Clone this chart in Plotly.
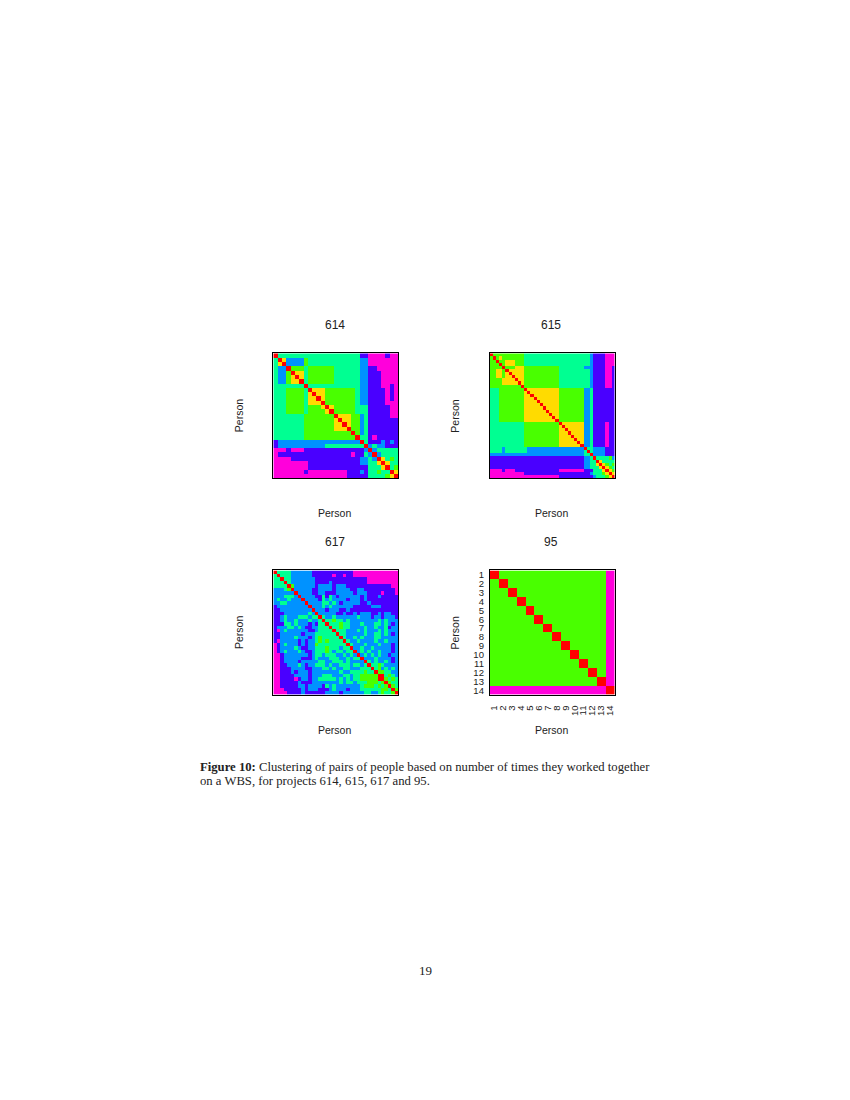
import plotly.graph_objects as go
from plotly.subplots import make_subplots

# cluster level per pair of people (0 lowest .. 6 highest), one string per row
rows_614 = [
    "6 33 3 333 3 333333 333333 11 0000100",
    "3 65 2222 4 333333333333 22 0000000",
    "3 56 2222 4 333333333333 22 0000000",
    "3 22 6 444 3 444444 333333 22 1100000",
    "3 22 4 655 3 444444 333333 22 1110000",
    "3 22 4 565 3 444444 333333 22 1110000",
    "3 22 4 556 3 444444 333333 22 1110000",
    "3 33 3 333 6 333333 333333 22 1110010",
    "3 33 4444 3 6555 44 44444 3 22 1111010",
    "3 33 4444 3 5655 44 44444 3 22 1111010",
    "3 33 4444 3 5565 44 44444 3 22 1111010",
    "3 33 4444 3 5556 44 44444 3 22 1111000",
    "3 33 4444 3 4445 65 44444 3 33 1111100",
    "3 33 4444 3 4444 56 44444 3 33 1111100",
    "3333333 4 444444 6555 44 2 3 1111100",
    "3333333 4 444444 5655 44 2 3 1111111",
    "3333333 4 444444 5565 44 2 3 1111111",
    "3333333 4 444444 5556 44 2 3 1111111",
    "3333333 4 444444 4444 64 2 3 1111111",
    "3333333 4 444444 4444 46 3 3 1011111",
    "1 22 2222 2 2222 22 22222 2 63 1112121",
    "1 22 2222 2 2222 33 33333 3 36 2322111",
    "000 1 000 1 1111 11 11111 1 12 6233333",
    "0 11 1111 1 1111 11 11110 1 13 2623333",
    "0 00 0 111 1 1111 11 11111 1 22 3265343",
    "0 00 0000 0 1111 11 11111 1 22 3356533",
    "0 00 0000 0 1111 11 11111 1 11 3335634",
    "0 00 0000 1 0000 00 00011 1 21 3343365",
    "0 00 0000 0 0000 00 00011 1 11 3333456",
]

rows_615 = [
    "644 44444444 33333333333 33333333 33 2 1111 00 0",
    "464 54444444 33333333333 33333333 33 2 1111 00 0",
    "446 44555444 33333333333 33333333 33 2 1111 00 0",
    "444 64555444 33333333333 33333333 33 2 1111 00 0",
    "444 46444555 44444444444 33333333 22 2 1111 00 1",
    "445 54655555 44444444444 33333333 33 2 1111 00 1",
    "445 54565555 44444444444 33333333 33 2 1111 00 1",
    "445 54556555 44444444444 33333333 33 2 1111 00 1",
    "444 45555655 44444444444 33333333 33 2 1111 00 1",
    "444 45555565 44444444444 33333333 33 2 1111 00 1",
    "444 44444446 44444444444 33333333 33 2 1111 00 1",
    "333 44444444 65555555555 44444444 22 3 1111 11 1",
    "333 44444444 56555555555 44444444 22 3 1111 11 1",
    "333 44444444 55655555555 44444444 22 3 1111 11 1",
    "333 44444444 55565555555 44444444 22 3 1111 11 1",
    "333 44444444 55556555555 44444444 22 3 1111 11 1",
    "333 44444444 55555655555 44444444 22 3 1111 11 1",
    "333 44444444 55555565555 44444444 22 3 1111 11 1",
    "333 44444444 55555556555 44444444 22 3 1111 11 1",
    "333 44444444 55555555655 44444444 22 3 1111 11 1",
    "333 44444444 55555555565 44444444 22 3 1111 11 1",
    "333 44444444 55555555556 44444444 22 3 1111 11 1",
    "333 33333333 44444444444 65555555 22 3 1111 01 1",
    "333 33333333 44444444444 56555555 22 3 1111 01 1",
    "333 33333333 44444444444 55655555 22 3 1111 01 1",
    "333 33333333 44444444444 55565555 22 3 1111 01 1",
    "333 33333333 44444444444 55556555 22 3 1111 01 1",
    "333 33333333 44444444444 55555655 22 3 1111 01 1",
    "333 33333333 44444444444 55555565 22 3 1111 01 1",
    "333 33333333 44444444444 55555556 22 3 1111 01 1",
    "333 32333333 32222222222 22222222 63 3 2222 11 1",
    "333 32333333 32222222222 22222222 36 3 2222 11 1",
    "222 22222222 22222222222 22222222 33 6 2222 11 1",
    "111 11111111 11111111111 11111111 22 3 6333 34 2",
    "111 11111111 11111111111 11111111 22 3 3653 33 3",
    "111 11111111 11111111111 11111111 22 3 3565 43 4",
    "111 11111111 11111111111 11111111 22 3 3356 54 3",
    "000 01000111 11111111111 00000000 11 1 3335 65 4",
    "000 00000000 11111111111 11111111 11 2 3334 56 5",
    "000 00000000 00000000000 11111111 11 1 2333 45 6",
]

rows_617 = [
    "633332 222221 111111 111110 000000 000000",
    "363332 222221 111110 110110 000000 000000",
    "336332 222222 111111 111111 111000 000000",
    "333632 222222 111121 111111 111000 000000",
    "333364 222222 122221 222111 111111 111100",
    "222346 222221 122221 222211 221111 111110",
    "222222 622221 122111 222221 222111 101110",
    "222333 262222 113132 122222 212111 211111",
    "232232 226222 213232 222122 212111 111111",
    "223322 222622 223323 212222 211211 111111",
    "122222 222262 223232 222221 111122 211111",
    "112222 222226 222122 211211 111111 111111",
    "111222 222232 622222 112112 122211 212211",
    "112322 233323 363223 222222 322212 212221",
    "112322 322232 236334 332322 222222 323222",
    "111332 322212 133633 343322 232223 323212",
    "122233 232112 233363 343322 223223 223122",
    "102322 222211 233336 333222 323222 323222",
    "112222 221222 333333 633222 223223 323212",
    "112222 322212 343333 363223 232223 322222",
    "102222 212122 343433 336322 322223 223222",
    "012322 212122 433333 333632 223222 322212",
    "012222 321122 333433 323362 232232 222212",
    "012322 232112 333432 332336 232322 322212",
    "001222 222212 332333 223232 623232 322122",
    "001222 221112 322233 322323 362223 222212",
    "001222 212222 233223 332322 226323 223212",
    "001122 232122 333232 233323 323633 432222",
    "001112 222112 223323 223322 233363 423232",
    "001112 122212 222222 232233 334336 443322",
    "001111 222212 223332 223323 344444 663432",
    "001111 012212 233333 232323 344444 664343",
    "001111 121112 222222 232332 333444 346433",
    "001111 122122 221323 222222 234443 434643",
    "000111 112122 211123 222122 233333 344364",
    "000011 112111 111222 212222 223322 343346",
]

rows_95 = [
    "64444444444440",
    "46444444444440",
    "44644444444440",
    "44464444444440",
    "44446444444440",
    "44444644444440",
    "44444464444440",
    "44444446444440",
    "44444444644440",
    "44444444464440",
    "44444444446440",
    "44444444444640",
    "44444444444460",
    "00000000000006",
]

level_colors = ["#FF00DB", "#4900FF", "#0092FF", "#00FF92", "#49FF00", "#FFDB00", "#FF0000"]
titles = ["614", "615", "617", "95"]
ticks_95 = list(range(1, 15))

W, H = 850, 1100
# box of each panel on the page, in pixels: left, right, top, bottom
boxes = [(273, 398, 353, 478), (490, 615, 353, 478),
         (273, 398, 570.5, 695), (490, 615, 570.5, 695)]

colorscale = []
for i, c in enumerate(level_colors):
    colorscale += [[i / 7, c], [(i + 1) / 7, c]]


def to_matrix(rows):
    m = [[int(c) for c in r.replace(" ", "")] for r in rows]
    for r in m:
        assert len(r) == len(m), (len(r), len(m))
    return m


def page_text(text, x, y, size, family="Liberation Sans", xanchor="center", angle=0):
    fig.add_annotation(text=text, x=x / W, y=1 - y / H, xref="paper", yref="paper", xanchor=xanchor,
                       yanchor="middle", textangle=angle, showarrow=False,
                       font=dict(size=size, family=family, color="#222222"))


fig = make_subplots(rows=2, cols=2)

matrices = [to_matrix(rows_614), to_matrix(rows_615), to_matrix(rows_617), to_matrix(rows_95)]
for k, m in enumerate(matrices):
    row, col = k // 2 + 1, k % 2 + 1
    n = len(m)
    labels = list(range(1, n + 1))
    fig.add_trace(go.Heatmap(z=m, x=labels, y=labels, colorscale=colorscale, zmin=-0.5, zmax=6.5,
                             showscale=False, hoverinfo="skip"), row=row, col=col)
    left, right, top, bottom = boxes[k]
    fig.update_xaxes(domain=[left / W, right / W], range=[0.5, n + 0.5], showgrid=False, zeroline=False,
                     showline=True, mirror=True, linecolor="black", linewidth=1,
                     showticklabels=False, ticks="", row=row, col=col)
    fig.update_yaxes(domain=[1 - bottom / H, 1 - top / H], range=[n + 0.5, 0.5], showgrid=False, zeroline=False,
                     showline=True, mirror=True, linecolor="black", linewidth=1,
                     showticklabels=False, ticks="", row=row, col=col)

    cx, cy = (left + right) / 2, (top + bottom) / 2
    page_text(titles[k], cx - 1, top - 28.5, 12)
    page_text("Person", cx - 1, bottom + 35, 10.5)
    page_text("Person", left - 35, cy, 10.5, angle=-90)

# only the small project has readable person numbers
tick_font = dict(size=9.5, family="Liberation Sans", color="#222222")
fig.update_xaxes(showticklabels=True, tickmode="array", tickvals=ticks_95, ticktext=[str(t) for t in ticks_95],
                 tickangle=-90, tickfont=tick_font, ticklabelstandoff=6, row=2, col=2)
fig.update_yaxes(showticklabels=True, tickmode="array", tickvals=ticks_95, ticktext=[str(t) for t in ticks_95],
                 tickfont=tick_font, ticklabelstandoff=3, row=2, col=2)

page_text("<b>Figure 10:</b> Clustering of pairs of people based on number of times they worked together",
          197, 767, 12.7, family="Liberation Serif", xanchor="left")
page_text("on a WBS, for projects 614, 615, 617 and 95.", 197, 781, 12.7, family="Liberation Serif", xanchor="left")
page_text("19", 425, 971, 13, family="Liberation Serif")

fig.update_layout(width=W, height=H, margin=dict(l=0, r=0, t=0, b=0),
                  plot_bgcolor="white", paper_bgcolor="white", showlegend=False)

fig.write_html("out.html", config={"displayModeBar": False}, post_script="document.body.style.margin='0';")
